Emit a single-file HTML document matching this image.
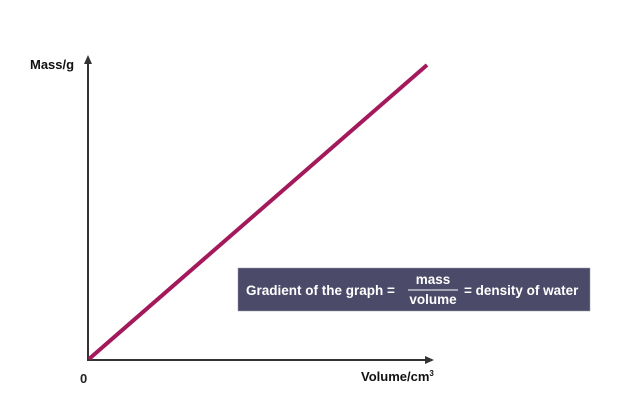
<!DOCTYPE html>
<html><head><meta charset="utf-8"><style>
html,body{margin:0;padding:0;background:#fff;width:624px;height:411px;overflow:hidden}
text{font-family:"Liberation Sans",Arial,sans-serif;font-weight:bold}
</style></head><body>
<svg width="624" height="411" viewBox="0 0 624 411" xmlns="http://www.w3.org/2000/svg">
<line x1="88" y1="361" x2="88" y2="62" stroke="#333" stroke-width="2"/>
<polygon points="88,55 84,64 92,64" fill="#333"/>
<line x1="87" y1="360" x2="427" y2="360" stroke="#333" stroke-width="2"/>
<polygon points="434,360 425,356 425,364" fill="#333"/>
<line x1="89" y1="359" x2="427" y2="65" stroke="#a3195b" stroke-width="4"/>
<text x="30" y="69" font-size="13" fill="#111">Mass/g</text>
<text x="80" y="383" font-size="13" fill="#222">0</text>
<text x="361" y="381" font-size="13" fill="#111">Volume/cm<tspan font-size="8" dy="-5">3</tspan></text>
<rect x="238" y="268" width="352" height="43" fill="#4b4a68" stroke="#9a9aaa" stroke-width="0.5"/>
<text x="246" y="295" font-size="13.5" fill="#fff">Gradient of the graph =</text>
<text x="433" y="284" font-size="13.5" fill="#fff" text-anchor="middle">mass</text>
<line x1="408" y1="290" x2="458" y2="290" stroke="#fff" stroke-width="1"/>
<text x="433" y="304" font-size="13.5" fill="#fff" text-anchor="middle">volume</text>
<text x="464" y="295" font-size="13.5" fill="#fff">= density of water</text>
</svg>
</body></html>
